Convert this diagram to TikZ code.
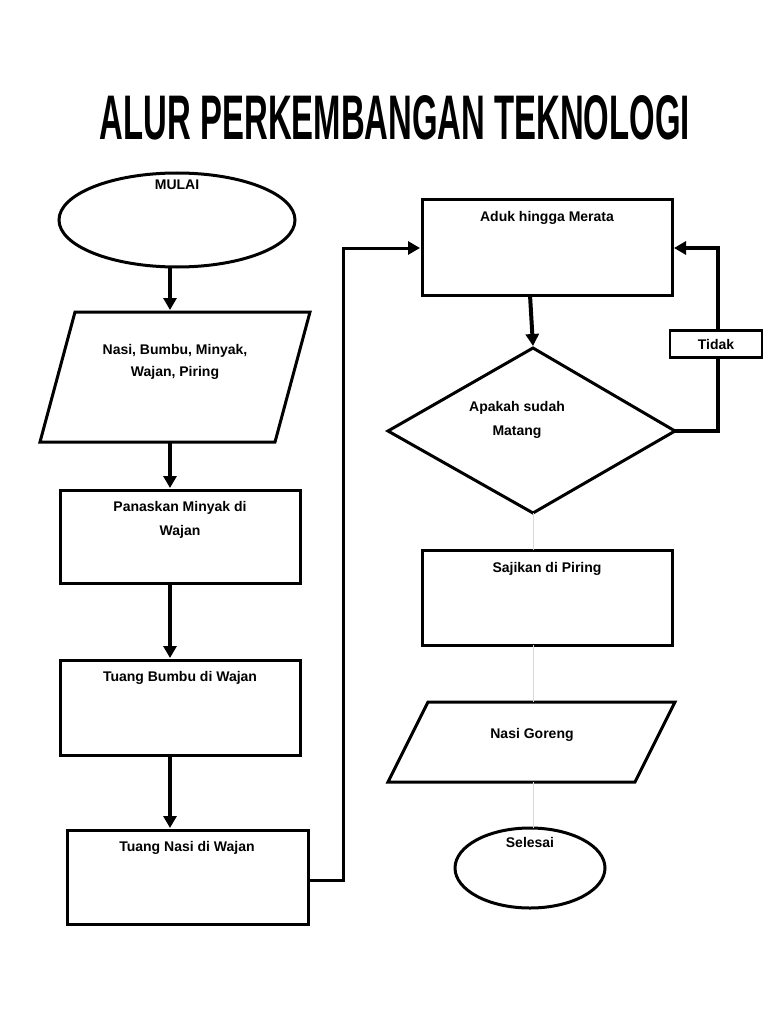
\documentclass[tikz,border=0pt]{standalone}
\usepackage{fontspec}
\usepackage{graphicx}
\setmainfont{Liberation Sans}
\usetikzlibrary{arrows.meta}
\begin{document}
\begin{tikzpicture}[x=1pt,y=-1pt,
  shp/.style={draw=black,line width=3pt,fill=white},
  lbl/.style={font=\fontsize{14}{16}\selectfont\bfseries,align=center},
  arr/.style={line width=4pt,-{Triangle[length=12pt,width=13pt]}},
  thin/.style={draw=black!15,line width=0.6pt}]
\useasboundingbox (0,0) rectangle (768,1024);
\node (title) at (395,118) {\resizebox{590pt}{44pt}{\bfseries ALUR PERKEMBANGAN TEKNOLOGI}};
% left column
\draw[shp] (177,220) ellipse [x radius=118, y radius=47];
\coordinate (mulB) at (170,268);
\node[lbl] (mul) at (177,185) {MULAI};
\draw[shp] (40,442) -- (75,312) -- (310,312) -- (275,442) -- cycle;
\coordinate (parT) at (170,310); \coordinate (parB) at (170,442);
\node[lbl] (par) at (175,362) {Nasi, Bumbu, Minyak,\\[6pt]Wajan, Piring};
\draw[shp] (60,490) rectangle (300,583);
\coordinate (r1T) at (170,488); \coordinate (r1B) at (170,583);
\node[lbl] (r1) at (180,520) {Panaskan Minyak di\\[8pt]Wajan};
\draw[shp] (60,660) rectangle (300,755);
\coordinate (r2T) at (170,658); \coordinate (r2B) at (170,755);
\node[lbl] (r2) at (180,678) {Tuang Bumbu di Wajan};
\draw[shp] (67,830) rectangle (308,924);
\coordinate (r3T) at (170,828); \coordinate (r3R) at (308,880);
\node[lbl] (r3) at (187,848) {Tuang Nasi di Wajan};
\draw[arr] (mulB) -- (parT);
\draw[arr] (parB) -- (r1T);
\draw[arr] (r1B) -- (r2T);
\draw[arr] (r2B) -- (r3T);
% right column
\draw[shp] (422,200) rectangle (672,295);
\coordinate (r4L) at (420,248); \coordinate (r4R) at (674,248); \coordinate (r4B) at (530,295);
\node[lbl] (r4) at (547,218) {Aduk hingga Merata};
\draw[arr,line width=3pt] (r3R) -- (343,880) -- (343,248) -- (r4L);
\draw[shp] (533,348) -- (675,431) -- (533,513) -- (388,431) -- cycle;
\coordinate (dT) at (533,346); \coordinate (dR) at (675,431); \coordinate (dB) at (533,513);
\node[lbl] (d) at (517,420) {Apakah sudah\\[8pt]Matang};
\draw[arr] (r4B) -- (dT);
\draw[arr,line width=4pt] (dR) -- (718,431) -- (718,248) -- (r4R);
\node[draw=black,line width=2.5pt,fill=white,minimum width=92pt,minimum height=27pt,lbl] (tidak) at (716,344) {Tidak};
\draw[shp] (422,550) rectangle (672,645);
\coordinate (r5T) at (533,550); \coordinate (r5B) at (533,645);
\node[lbl] (r5) at (547,569) {Sajikan di Piring};
\draw[shp] (388,782) -- (428,702) -- (675,702) -- (635,782) -- cycle;
\coordinate (p2T) at (533,702); \coordinate (p2B) at (533,782);
\node[lbl] (p2) at (532,735) {Nasi Goreng};
\draw[shp] (530,868) ellipse [x radius=75, y radius=40];
\coordinate (eT) at (533,828);
\node[lbl] (e) at (530,842) {Selesai};
\draw[thin] (dB) -- (r5T);
\draw[thin] (r5B) -- (p2T);
\draw[thin] (p2B) -- (eT);
\end{tikzpicture}
\end{document}
